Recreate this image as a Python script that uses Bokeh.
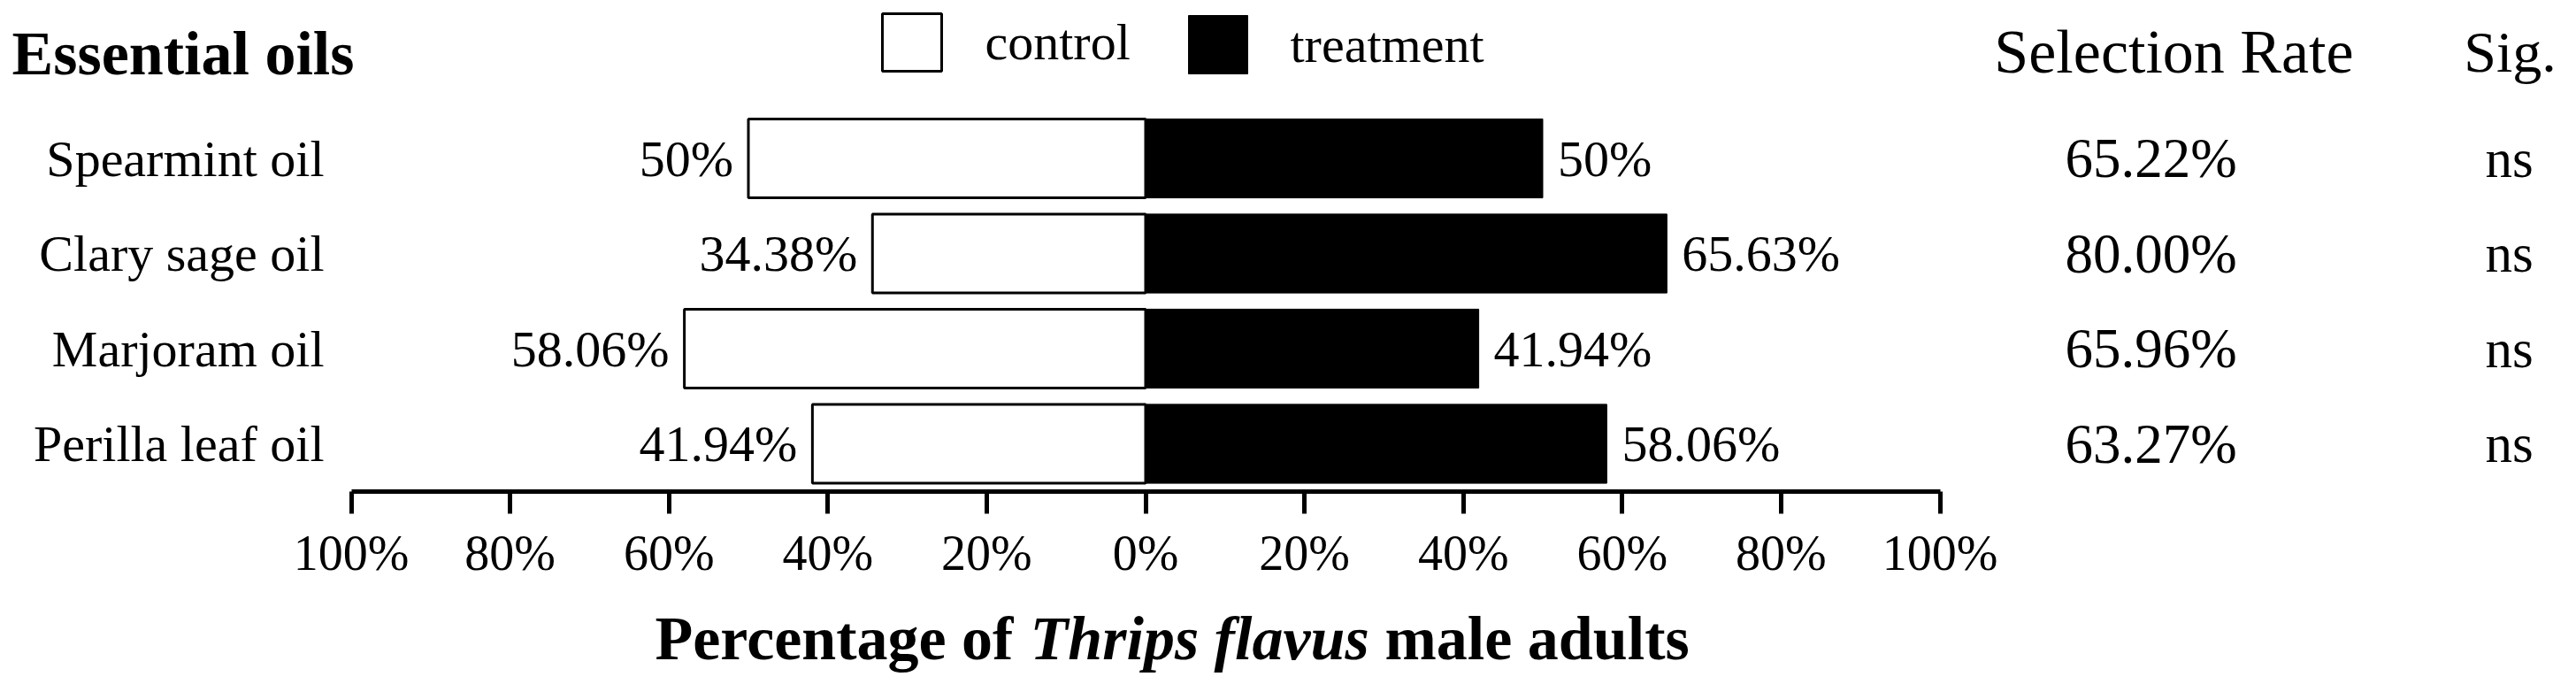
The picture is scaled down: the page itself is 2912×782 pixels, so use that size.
from bokeh.plotting import figure
from bokeh.layouts import column
from bokeh.models import Range1d, FixedTicker, ColumnDataSource
from bokeh.core.properties import value
from bokeh.embed import file_html
from bokeh.resources import INLINE

# ---------------- data ----------------
oils = ["Spearmint oil", "Clary sage oil", "Marjoram oil", "Perilla leaf oil"]
control = [50.0, 34.38, 58.06, 41.94]
treatment = [50.0, 65.63, 41.94, 58.06]
control_labels = ["50%", "34.38%", "58.06%", "41.94%"]
treatment_labels = ["50%", "65.63%", "41.94%", "58.06%"]
selection_rate = ["65.22%", "80.00%", "65.96%", "63.27%"]
significance = ["ns", "ns", "ns", "ns"]
x_ticks = [-100, -80, -60, -40, -20, 0, 20, 40, 60, 80, 100]
x_tick_labels = ["100%", "80%", "60%", "40%", "20%", "0%", "20%", "40%", "60%", "80%", "100%"]

# ---------------- layout ----------------
W = 2890
FRAME_H = 555          # frame bottom = axis line
MAIN_H = 658           # main figure height (frame + tick area)
TITLE_H = 108          # strip holding the axis title
PX_PER_PCT = 8.98
ZERO_PX = 1294.5
ROW_PX = 107.5
FIRST_ROW_PX = 178.5
FONT = "Liberation Serif"


def dx(px):
    """picture x pixel -> data x"""
    return (px - ZERO_PX) / PX_PER_PCT


def dy(py):
    """picture y pixel -> data y"""
    return (FIRST_ROW_PX - py) / ROW_PX


x_range = Range1d(-ZERO_PX / PX_PER_PCT, (W - ZERO_PX) / PX_PER_PCT)
y_range = Range1d(-(FRAME_H - FIRST_ROW_PX) / ROW_PX, FIRST_ROW_PX / ROW_PX)

p = figure(width=W, height=MAIN_H, x_range=x_range, y_range=y_range,
           title=None, output_backend="svg", toolbar_location=None,
           y_axis_location=None,
           min_border_left=0, min_border_right=0, min_border_top=0,
           min_border_bottom=MAIN_H - FRAME_H)
p.outline_line_color = None
p.grid.visible = False

ys = [-i for i in range(len(oils))]
src = ColumnDataSource(dict(
    y=ys, oil=oils,
    cl=[-c for c in control], tr=treatment,
    cl_lab=control_labels, tr_lab=treatment_labels,
    sr=selection_rate, sig=significance,
))

# bars
p.hbar(y="y", left="cl", right=0, height=0.83, source=src,
       fill_color="white", line_color="black", line_width=3)
p.hbar(y="y", left=0, right="tr", height=0.83, source=src,
       fill_color="black", line_color="black", line_width=1)

txt = dict(text_font=value(FONT), text_color="black", text_baseline="middle")

# category labels
p.text(x=dx(366), y="y", text="oil", source=src, text_align="right",
       text_font_size="58px", **txt)
# value labels
p.text(x="cl", y="y", text="cl_lab", source=src, text_align="right",
       x_offset=-17, text_font_size="58px", **txt)
p.text(x="tr", y="y", text="tr_lab", source=src, text_align="left",
       x_offset=17, text_font_size="58px", **txt)
# selection rate and significance
p.text(x=dx(2431), y="y", text="sr", source=src, text_align="center",
       text_font_size="63px", **txt)
p.text(x=dx(2836), y="y", text="sig", source=src, text_align="center",
       text_font_size="61px", **txt)

# headers
p.text(x=[dx(13)], y=[dy(60)], text=["Essential oils"], text_align="left",
       text_font_size="70px", text_font_style="bold", **txt)
p.text(x=[dx(2457)], y=[dy(58)], text=["Selection Rate"], text_align="center",
       text_font_size="70px", **txt)
p.text(x=[dx(2837)], y=[dy(58)], text=["Sig."], text_align="center",
       text_font_size="66px", **txt)

# legend
p.rect(x=[dx(1030.5)], y=[dy(47.5)], width=67 / PX_PER_PCT, height=65 / ROW_PX,
       fill_color="white", line_color="black", line_width=3)
p.rect(x=[dx(1376.5)], y=[dy(50)], width=67 / PX_PER_PCT, height=66 / ROW_PX,
       fill_color="black", line_color="black", line_width=1)
p.text(x=[dx(1113)], y=[dy(47)], text=["control"], text_align="left",
       text_font_size="58px", **txt)
p.text(x=[dx(1458)], y=[dy(50)], text=["treatment"], text_align="left",
       text_font_size="58px", **txt)

# x axis
ax = p.xaxis[0]
ax.ticker = FixedTicker(ticks=x_ticks)
ax.major_label_overrides = {t: l for t, l in zip(x_ticks, x_tick_labels)}
ax.bounds = (-100, 100)
ax.axis_line_width = 5
ax.axis_line_color = "black"
ax.major_tick_line_width = 5
ax.major_tick_line_color = "black"
ax.major_tick_out = 25
ax.major_tick_in = 0
ax.minor_tick_line_color = None
ax.major_label_text_font = FONT
ax.major_label_text_font_size = "56px"
ax.major_label_text_color = "black"
ax.major_label_standoff = 13

# axis title strip (mixed bold / bold-italic text)
t = figure(width=W, height=TITLE_H, x_range=x_range, y_range=Range1d(0, TITLE_H),
           title=None, output_backend="svg", toolbar_location=None,
           x_axis_location=None, y_axis_location=None,
           min_border_left=0, min_border_right=0, min_border_top=0,
           min_border_bottom=0)
t.outline_line_color = None
t.grid.visible = False
title_parts = ["Percentage of", "Thrips flavus", "male adults"]
title_styles = ["bold", "bold italic", "bold"]
title_offsets = [0, 424, 825]
title_mid_y = TITLE_H - (721 - MAIN_H)
for part, style, off in zip(title_parts, title_styles, title_offsets):
    t.text(x=[dx(740)], y=[title_mid_y], text=[part], x_offset=off,
           text_font=value(FONT), text_font_size="70px",
           text_font_style=style, text_color="black",
           text_baseline="middle", text_align="left")

layout = column(p, t, spacing=0)
open("out.html", "w").write(file_html(layout, INLINE))
